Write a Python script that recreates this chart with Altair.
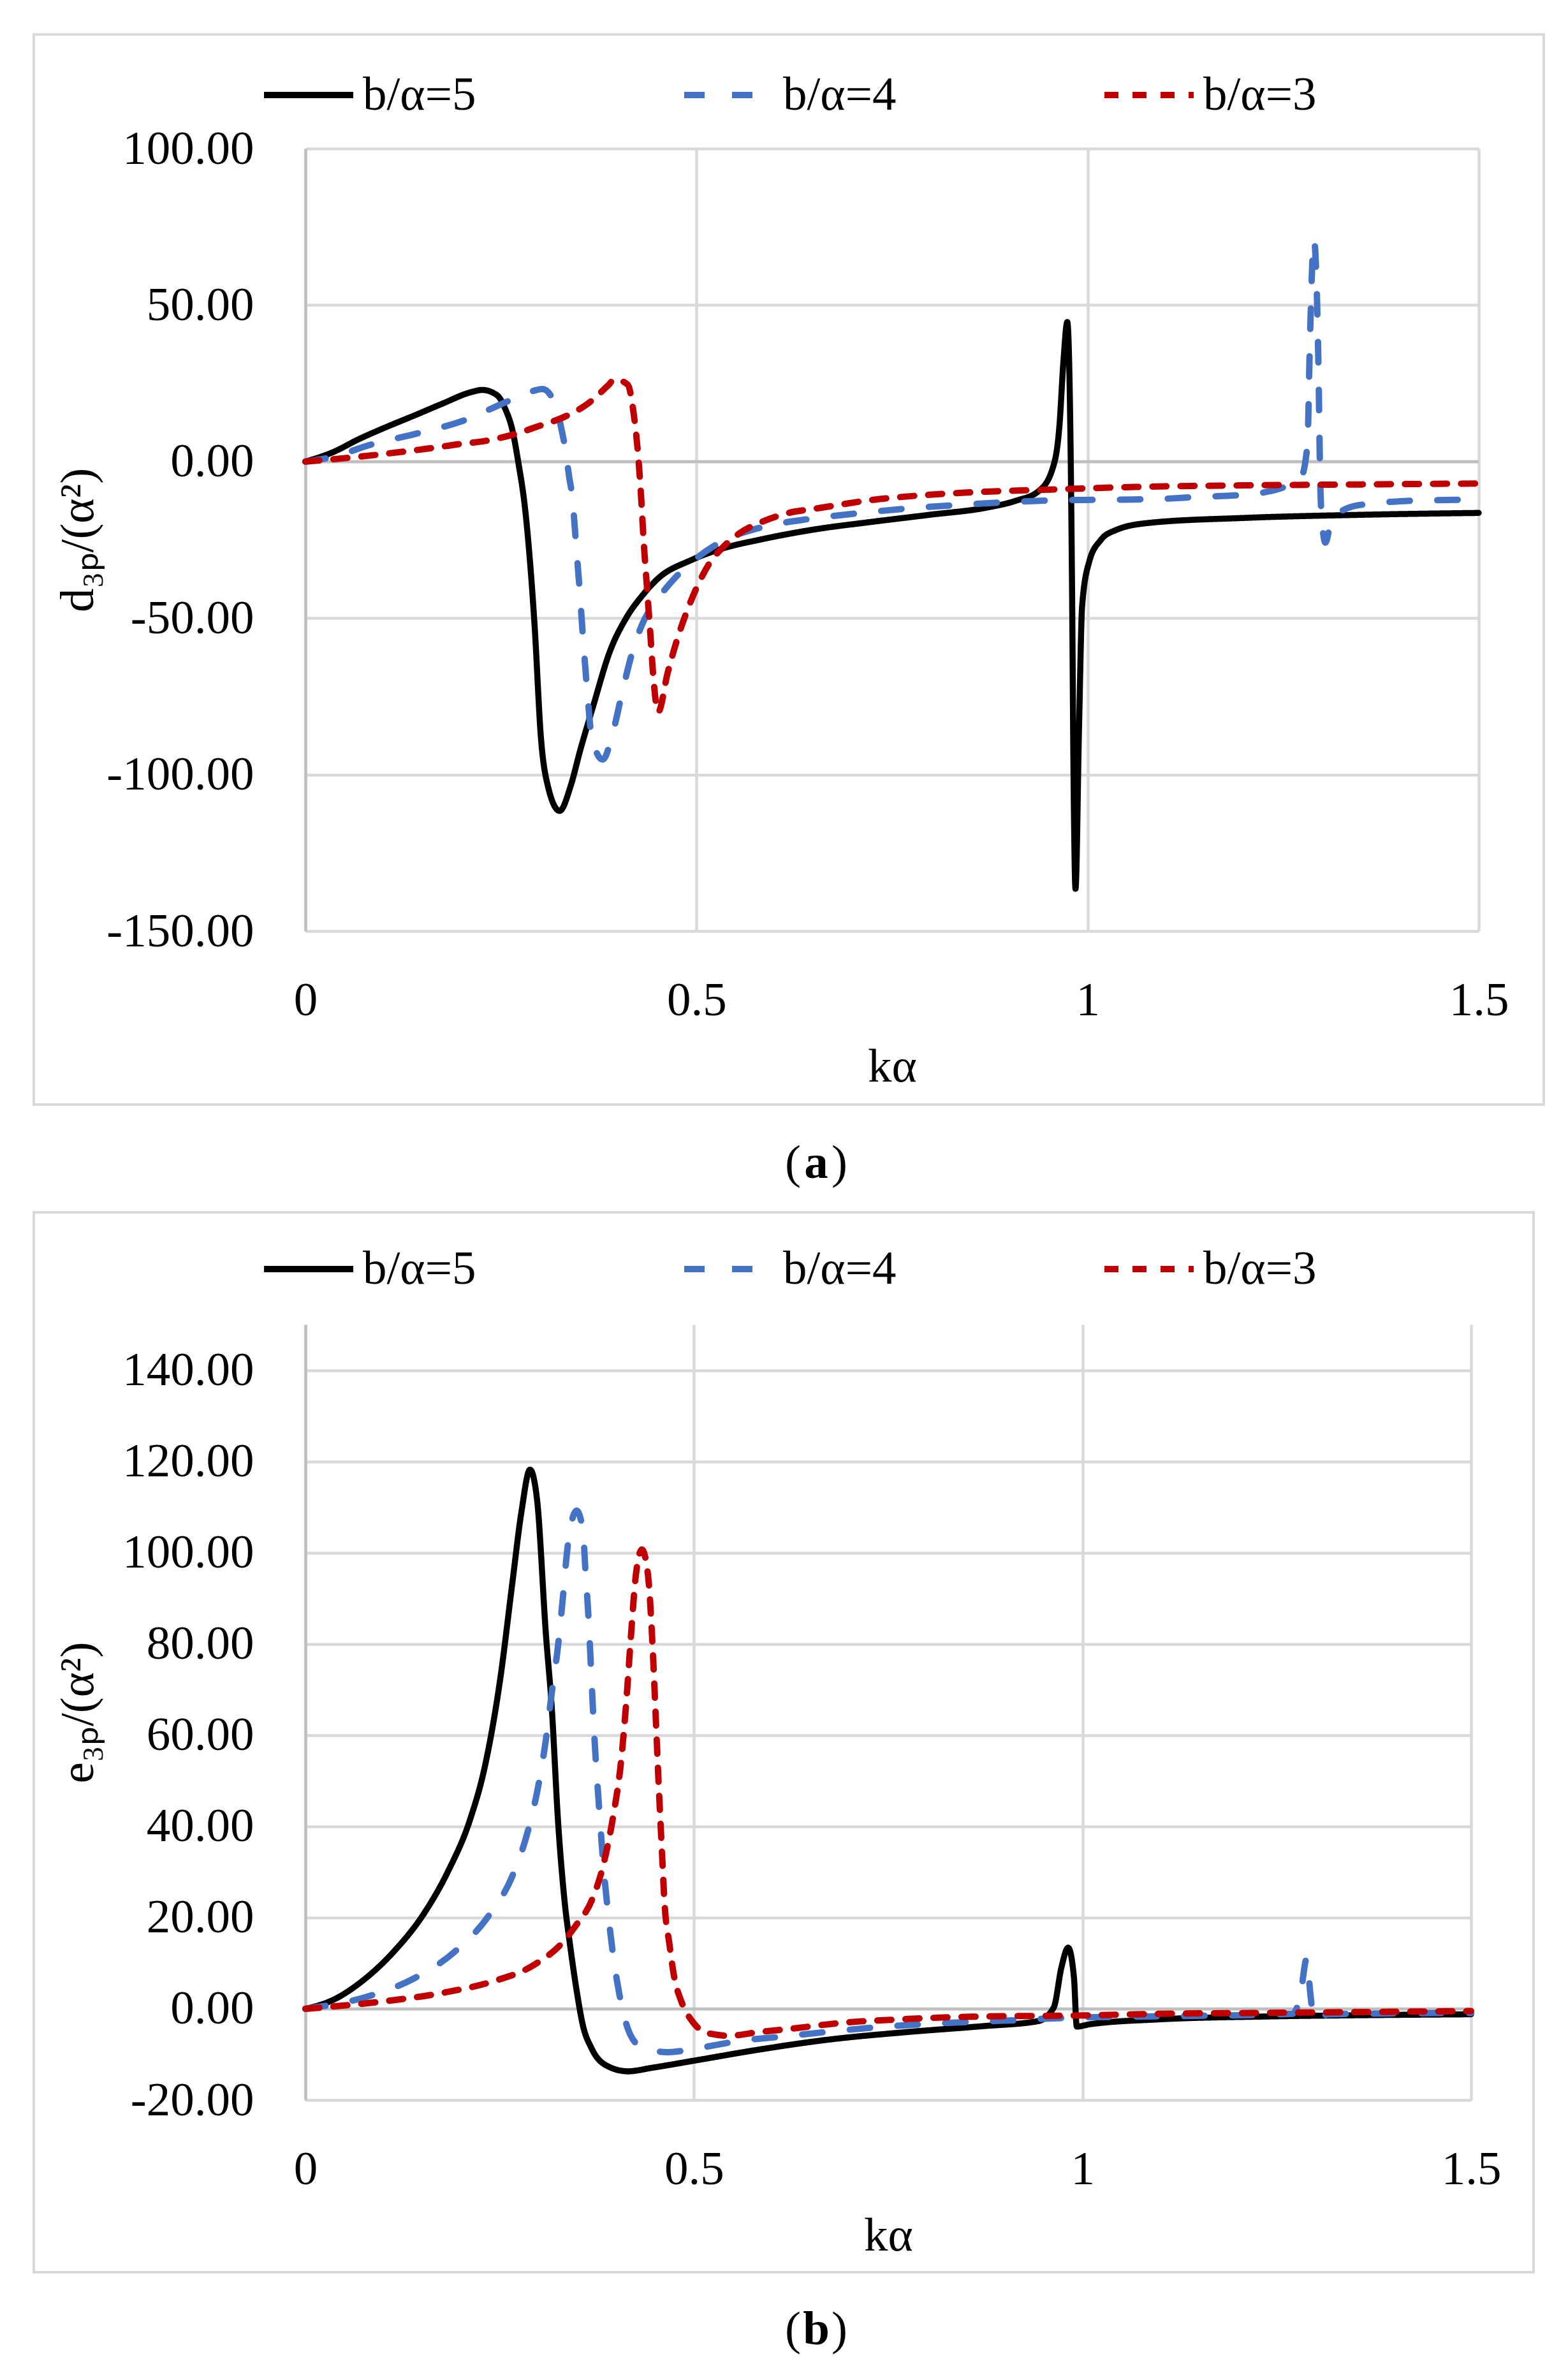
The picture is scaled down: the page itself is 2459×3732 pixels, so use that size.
import altair as alt
import pandas as pd

FONT = "Liberation Serif"
SERIES = ["b/α=5", "b/α=4", "b/α=3"]
COLORS = ["#000000", "#4472c4", "#c00000"]
DASHES = [[1, 0], [32, 43], [22, 22]]
WIDTHS = [9.5, 10, 10]

# ---------------- panel (a): d3p/(alpha^2) ----------------
A5_X = [0, 0.037, 0.066, 0.103, 0.139, 0.175, 0.212, 0.226, 0.245, 0.255, 0.265, 0.272, 0.281, 0.293,
        0.301, 0.31, 0.325, 0.339, 0.351, 0.368, 0.389, 0.41, 0.43, 0.451, 0.493, 0.534, 0.58, 0.653,
        0.726, 0.798, 0.871, 0.907, 0.937, 0.955, 0.964, 0.969, 0.974, 0.978, 0.980, 0.982, 0.9845,
        0.989, 0.993, 1.002, 1.017, 1.035, 1.078, 1.2, 1.35, 1.5]
A5_Y = [0, 3.2, 6.9, 11, 14.7, 18.5, 22.2, 22.9, 21.2, 17.1, 9.6, 0, -15.5, -52.5,
        -88, -103.7, -111.6, -103.7, -92.5, -78, -60.8, -50, -43, -37.3, -31.5, -27.7, -25, -21.6,
        -19.2, -17, -14.7, -12.6, -9.5, -2.4, 11.6, 31.8, 44.6, 8.4, -38, -100.6, -136.5,
        -85, -46, -32, -25, -22, -19.6, -18, -17, -16.4]

A4_X = [0, 0.035, 0.082, 0.143, 0.201, 0.257, 0.29, 0.303, 0.319, 0.328, 0.333, 0.337, 0.341, 0.346,
        0.351, 0.355, 0.36, 0.366, 0.38, 0.393, 0.405, 0.418, 0.43, 0.451, 0.472, 0.493, 0.534, 0.58,
        0.645, 0.707, 0.769, 0.831, 0.893, 0.955, 1.017, 1.086, 1.138, 1.201, 1.258, 1.272, 1.281,
        1.284, 1.2893, 1.295, 1.2973, 1.2993, 1.304, 1.311, 1.335, 1.364, 1.405, 1.472, 1.5]
A4_Y = [0, 1.5, 5.3, 9, 13, 19.1, 22.5, 23.2, 18.5, 9.6, 2.9, -4.6, -11, -26.5,
        -42.5, -56.8, -72.5, -88, -95.2, -86.6, -73.7, -60.8, -52.3, -43.7, -37.3, -32.3, -25.3, -21.2,
        -18.3, -16.5, -15, -13.9, -13, -12.4, -12.2, -12, -11.3, -10.6, -7.5, -5.7, 5.3,
        36.5, 70.8, 31.8, -5.7, -18, -25.9, -19.7, -14.6, -13.4, -12.6, -12.2, -12]

A3_X = [0, 0.055, 0.092, 0.161, 0.197, 0.23, 0.265, 0.299, 0.332, 0.361, 0.388, 0.395, 0.412, 0.419,
        0.426, 0.430, 0.432, 0.436, 0.441, 0.445, 0.451, 0.463, 0.476, 0.488, 0.501, 0.517, 0.534,
        0.555, 0.587, 0.616, 0.653, 0.726, 0.798, 0.871, 0.944, 1.017, 1.078, 1.2, 1.35, 1.5]
A3_Y = [0, 1.2, 2.2, 4.3, 5.6, 6.6, 8.6, 11.4, 14.4, 18.5, 24.6, 26.3, 24.6, 16.5,
        0, -14.8, -23.8, -38, -55.2, -69.5, -80, -67.6, -56.2, -47.6, -39.8, -32.3, -27.3,
        -22.9, -18.9, -16.5, -15, -12.2, -10.6, -9.6, -9.0, -8.4, -8.0, -7.6, -7.3, -7.0]

# ---------------- panel (b): e3p/(alpha^2) ----------------
B5_X = [0, 0.035, 0.074, 0.1135, 0.153, 0.184, 0.2115, 0.231, 0.251, 0.266, 0.278, 0.289, 0.298, 0.3095,
        0.317, 0.325, 0.333, 0.341, 0.349, 0.357, 0.368, 0.388, 0.415, 0.447, 0.506, 0.578, 0.676,
        0.774, 0.872, 0.943, 0.963, 0.973, 0.9815, 0.989, 0.9926, 1.009, 1.1, 1.231, 1.362, 1.5]
B5_Y = [0, 1.9, 6.2, 12.5, 21, 30.3, 41.3, 53.2, 72.7, 93, 109, 118.2, 111.7, 82,
        66, 41.3, 24.4, 13.4, 4, -3.6, -8.6, -12.5, -13.7, -12.9, -11.2, -9.1, -6.7,
        -5.1, -3.8, -2.7, 0.3, 9.2, 13.4, 6.8, -3.9, -3.4, -2.3, -1.7, -1.4, -1.2]

B4_X = [0, 0.082, 0.139, 0.192, 0.235, 0.266, 0.286, 0.2998, 0.3095, 0.317, 0.325, 0.331, 0.337, 0.349,
        0.357, 0.3605, 0.3644, 0.368, 0.372, 0.378, 0.384, 0.39, 0.396, 0.404, 0.415, 0.431, 0.466,
        0.5056, 0.5645, 0.607, 0.669, 0.731, 0.793, 0.852, 0.914, 0.976, 1.035, 1.166, 1.27, 1.28,
        1.2885, 1.293, 1.2964, 1.3008, 1.316, 1.4, 1.5]
B4_Y = [0, 2.8, 6.6, 12.5, 20.2, 29, 38.8, 49, 59.1, 69.3, 79.5, 89.6, 100.7, 109.2,
        104.9, 95.6, 85.4, 72.7, 59.1, 43.9, 30.3, 20.2, 11.7, 3.2, -4.4, -8.2, -9.5,
        -8.6, -6.9, -6.2, -5.1, -4.1, -3.4, -2.9, -2.5, -2.0, -1.8, -1.5, -1.1, 2.6,
        11, 3.6, -1.1, -2.3, -1.2, -1.0, -0.9]

B3_X = [0, 0.094, 0.18, 0.239, 0.294, 0.329, 0.349, 0.368, 0.384, 0.396, 0.406, 0.413, 0.419, 0.425,
        0.433, 0.441, 0.4467, 0.4507, 0.4546, 0.4585, 0.4623, 0.4684, 0.474, 0.484, 0.4976, 0.517,
        0.545, 0.584, 0.623, 0.695, 0.767, 0.839, 0.911, 0.983, 1.1, 1.231, 1.362, 1.5]
B3_Y = [0, 1.5, 3.6, 5.9, 9.6, 14.2, 18.5, 23.6, 32, 42.2, 54, 67.6, 82, 94.8,
        100.7, 94.8, 79.5, 64.3, 49, 35.4, 22.7, 14.2, 7.5, 1.5, -2.7, -5.3,
        -5.9, -5.1, -4.4, -3.0, -2.3, -1.8, -1.6, -1.5, -1.1, -0.9, -0.7, -0.5]

X_TICKS = [0, 0.5, 1, 1.5]
A_TICKS = [-150, -100, -50, 0, 50, 100]
B_TICKS = [-20, 0, 20, 40, 60, 80, 100, 120, 140]

GRID = "#d9d9d9"
AXISLINE = "#bfbfbf"
FS = 75


def long_df(xs, ys):
    rows = []
    for s, x, y in zip(SERIES, xs, ys):
        for a, b in zip(x, y):
            rows.append({"ka": a, "val": b, "series": s})
    return pd.DataFrame(rows)


def legend(ly):
    return alt.Legend(
        title=None, orient="none", legendX=-70, legendY=ly, direction="horizontal", columns=3,
        symbolType="stroke", symbolSize=19600, symbolStrokeWidth=10, labelFont=FONT,
        labelFontSize=FS, labelColor="black", labelOffset=10, labelLimit=600,
        columnPadding=306, padding=0,
    )


def panel(df, ydom, yticks, ytitle, W, H, frame, spacer, letter, letter_y, ly):
    dummy = pd.DataFrame({"d": [0]})
    xenc = alt.X(
        "ka:Q",
        scale=alt.Scale(domain=[0, 1.5], nice=False, zero=False),
        axis=alt.Axis(
            values=X_TICKS, format=".1~f", grid=True, gridColor=GRID, gridWidth=4.5,
            domain=False, ticks=False, tickSize=0, labelFont=FONT, labelFontSize=FS,
            labelColor="black", labelPadding=72, labelFlush=False, labelOverlap=False,
            title="kα", titleFont=FONT, titleFontSize=FS, titleFontWeight="normal",
            titleColor="black", titlePadding=30,
        ),
    )
    yenc = alt.Y(
        "val:Q",
        scale=alt.Scale(domain=ydom, nice=False, zero=False),
        axis=alt.Axis(
            values=yticks, labelExpr="replace(format(datum.value, '.2f'), '\u2212', '-')",
            grid=True, gridColor=GRID, gridWidth=4.5, domain=True, domainColor=AXISLINE,
            domainWidth=4.5, ticks=False, tickSize=0, labelFont=FONT, labelFontSize=FS,
            labelColor="black", labelPadding=81, labelOverlap=False, labelFlush=False,
            labelLimit=500,
            title=ytitle, titleFont=FONT, titleFontSize=FS, titleFontWeight="normal",
            titleColor="black", titleAngle=-90, titleX=-357, titleY=H / 2,
            titleBaseline="middle", titleAlign="center",
        ),
    )
    leg = legend(ly)
    frame_l = alt.Chart(dummy).mark_rect(fillOpacity=0, stroke=GRID, strokeWidth=4).encode(
        x=alt.value(frame[0]), x2=alt.value(frame[1]), y=alt.value(frame[2]), y2=alt.value(frame[3])
    )
    layers = [frame_l]
    if spacer is not None:
        layers.append(
            alt.Chart(dummy).mark_rect(opacity=0).encode(
                x=alt.value(0), x2=alt.value(10), y=alt.value(spacer[0]), y2=alt.value(spacer[1])
            )
        )
    layers.append(alt.Chart(dummy).mark_rule(color=AXISLINE, strokeWidth=4.5).encode(y=alt.datum(0)))
    for s, w in zip(SERIES, WIDTHS):
        layers.append(
            alt.Chart(df).transform_filter(alt.datum.series == s).mark_line(
                interpolate="monotone", strokeWidth=w, strokeCap="round", strokeJoin="round"
            ).encode(
                x=xenc,
                y=yenc,
                color=alt.Color("series:N", scale=alt.Scale(domain=SERIES, range=COLORS), legend=leg),
                strokeDash=alt.StrokeDash("series:N", scale=alt.Scale(domain=SERIES, range=DASHES), legend=leg),
            )
        )
    layers.append(alt.Chart(dummy).mark_text(text="(", font=FONT, fontSize=FS, align="right", baseline="middle", color="black").encode(
        x=alt.value(777), y=alt.value(letter_y)))
    layers.append(alt.Chart(dummy).mark_text(text=letter, font=FONT, fontSize=FS, fontWeight="bold", align="center", baseline="middle", color="black").encode(
        x=alt.value(801), y=alt.value(letter_y)))
    layers.append(alt.Chart(dummy).mark_text(text=")", font=FONT, fontSize=FS, align="left", baseline="middle", color="black").encode(
        x=alt.value(825), y=alt.value(letter_y)))
    return alt.layer(*layers).properties(width=W, height=H)


pa = panel(long_df([A5_X, A4_X, A3_X], [A5_Y, A4_Y, A3_Y]), [-150, 100], A_TICKS,
           "d₃ₚ/(α²)", 1840, 1227, (-426, 1942, -179, 1499), (1600, 1664), "a", 1591, -159)
pb = panel(long_df([B5_X, B4_X, B3_X], [B5_Y, B4_Y, B3_Y]), [-20, 150], B_TICKS,
           "e₃ₚ/(α²)", 1828, 1216, (-426, 1926, -176, 1486), None, "b", 1576, -162)

chart = alt.vconcat(pa, pb, spacing=0).resolve_scale(
    x="independent", y="independent", color="independent", strokeDash="independent"
).resolve_legend(color="independent", strokeDash="independent").properties(
    padding={"left": 42, "top": 43, "right": 10, "bottom": 10},
    background="white",
).configure_view(stroke="transparent")

chart.save("out.html", embed_options={"renderer": "svg", "actions": False})
